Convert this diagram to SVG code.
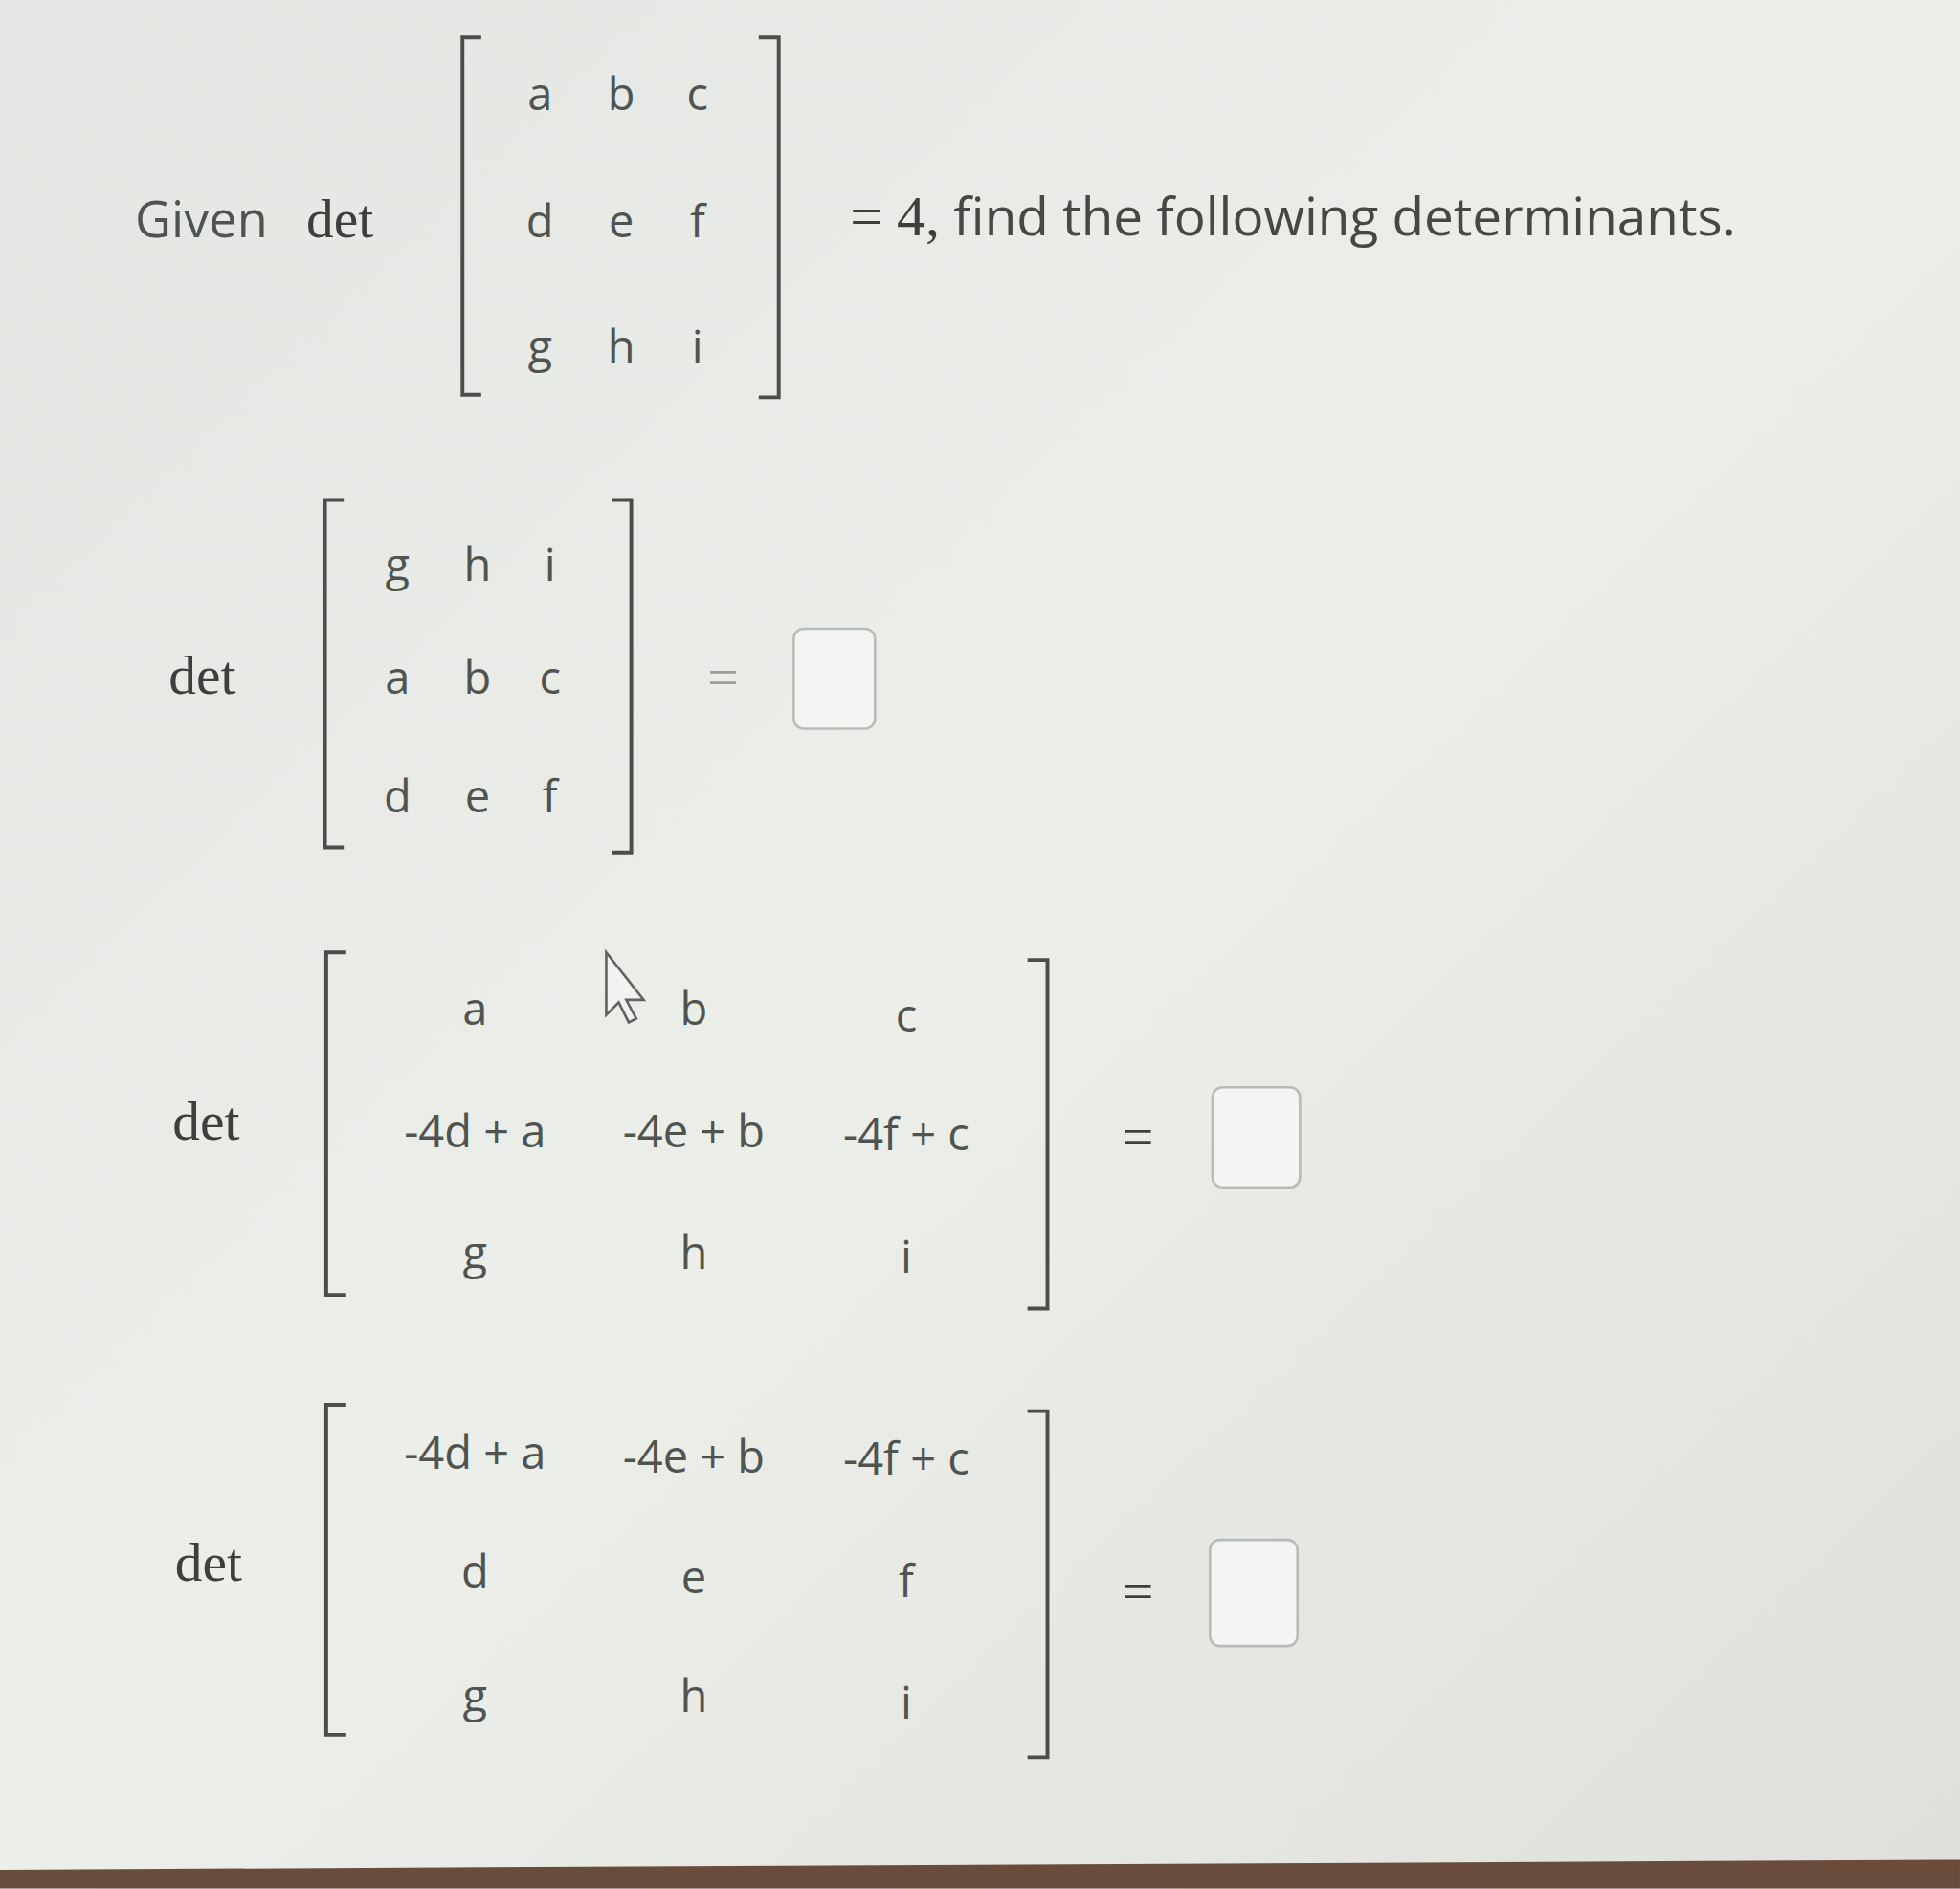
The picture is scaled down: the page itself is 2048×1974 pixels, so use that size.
<svg xmlns="http://www.w3.org/2000/svg" width="2048" height="1974" viewBox="0 0 2048 1974">
<defs>
<linearGradient id="bg" x1="0" y1="0" x2="1" y2="1">
<stop offset="0" stop-color="#e4e6e3"/>
<stop offset="0.5" stop-color="#eceeea"/>
<stop offset="1" stop-color="#dfe0dc"/>
</linearGradient>
<style>
.s{font-family:"Open Sans","Liberation Sans",sans-serif;fill:#505450;font-size:36px}
.m{text-anchor:middle}
.d{font-family:"Liberation Serif",serif;fill:#3c3f3c;font-size:44px}
.br{fill:none;stroke:#4a4d4a;stroke-width:3}
.box{fill:#f4f5f3;stroke:#b8bcb8;stroke-width:2}
</style>
</defs>
<rect width="2048" height="1974" fill="url(#bg)"/>
<g transform="scale(1.3061)">
<polygon points="0,1496 1568,1488 1568,1511 0,1511" fill="#6a4c3c"/>
<text x="108" y="190" class="s" style="font-size:40px">Given</text>
<text x="245" y="190" class="d">det</text>
<path class="br" d="M385,30 H370 V316 H385 M607,30 H623 V318 H607"/>
<g class="s m">
<text x="432" y="88">a</text><text x="497" y="88">b</text><text x="558" y="88">c</text>
<text x="432" y="190">d</text><text x="497" y="190">e</text><text x="558" y="190">f</text>
<text x="432" y="290">g</text><text x="497" y="290">h</text><text x="558" y="290">i</text>
</g>
<text x="680" y="188" class="d" style="font-size:46px">= 4,<tspan class="s" style="font-size:42px;fill:#454845"> find the following determinants.</tspan></text>

<text x="135" y="555" class="d">det</text>
<path class="br" d="M275,400 H260 V678 H275 M490,400 H505 V682 H490"/>
<g class="s m">
<text x="318" y="465">g</text><text x="382" y="465">h</text><text x="440" y="465">i</text>
<text x="318" y="555">a</text><text x="382" y="555">b</text><text x="440" y="555">c</text>
<text x="318" y="650">d</text><text x="382" y="650">e</text><text x="440" y="650">f</text>
</g>
<text x="566" y="557" class="d" style="fill:#9a9d9a">=</text>
<rect x="635" y="503" width="65" height="80" rx="8" class="box"/>

<text x="138" y="912" class="d">det</text>
<path class="br" d="M277,762 H261 V1036 H277 M822,768 H838 V1047 H822"/>
<g class="s m">
<text x="380" y="820">a</text><text x="555" y="820">b</text><text x="725" y="825">c</text>
<text x="380" y="918">-4d + a</text><text x="555" y="918">-4e + b</text><text x="725" y="920">-4f + c</text>
<text x="380" y="1015">g</text><text x="555" y="1015">h</text><text x="725" y="1018">i</text>
</g>
<polygon points="485,762 485,812 495,802 503,818 509,815 501,800 515,800" fill="#f2f2f0" stroke="#606360" stroke-width="2"/>
<text x="898" y="924" class="d">=</text>
<rect x="970" y="870" width="70" height="80" rx="8" class="box"/>

<text x="140" y="1265" class="d">det</text>
<path class="br" d="M277,1124 H261 V1388 H277 M822,1129 H838 V1406 H822"/>
<g class="s m">
<text x="380" y="1175">-4d + a</text><text x="555" y="1178">-4e + b</text><text x="725" y="1180">-4f + c</text>
<text x="380" y="1270">d</text><text x="555" y="1275">e</text><text x="725" y="1278">f</text>
<text x="380" y="1370">g</text><text x="555" y="1370">h</text><text x="725" y="1375">i</text>
</g>
<text x="898" y="1288" class="d">=</text>
<rect x="968" y="1232" width="70" height="85" rx="8" class="box"/>
</g>
</svg>
